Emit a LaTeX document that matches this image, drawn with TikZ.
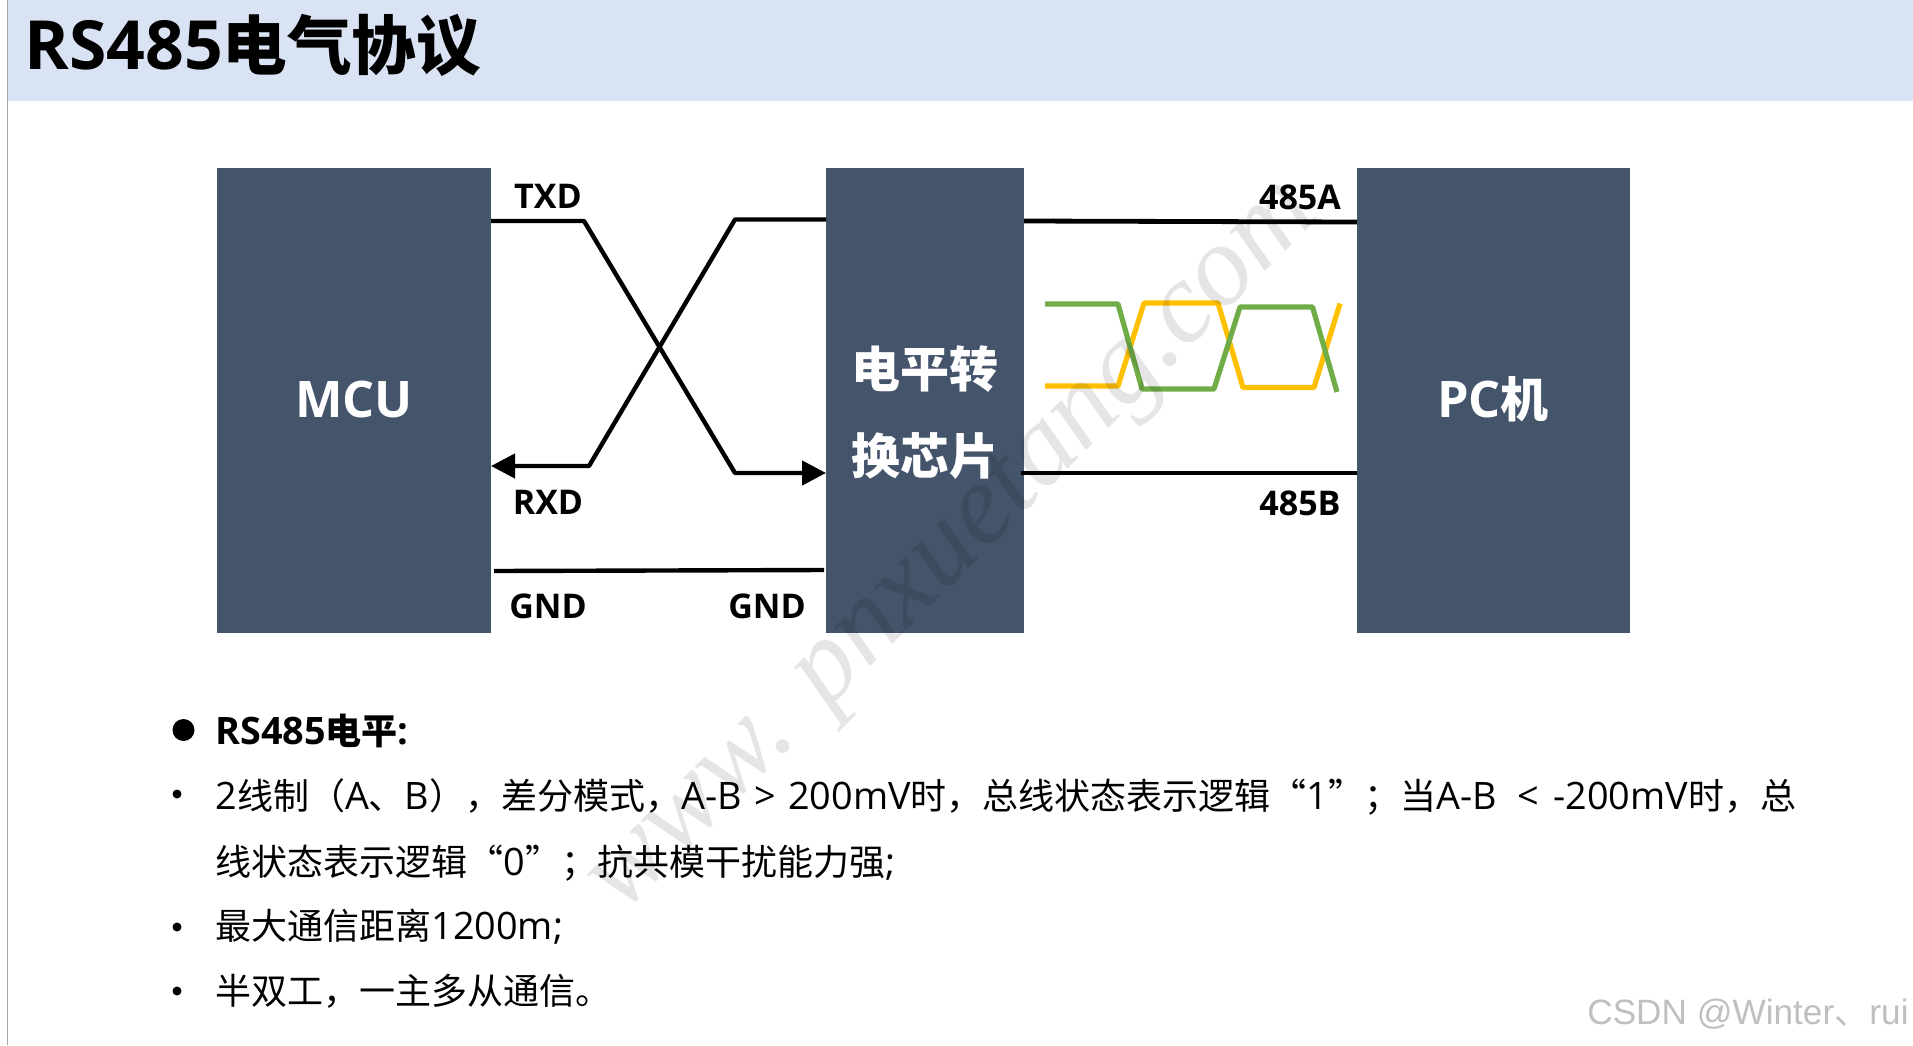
\documentclass[tikz,border=0pt]{standalone}
\usepackage{fontspec}
\setmainfont{Noto Sans CJK SC}
\newfontfamily\lat[Scale=1.05,WordSpace=1.25]{Open Sans}
\newfontfamily\markfont{Liberation Serif}
\newfontfamily\csdnfont{Liberation Sans}
\usetikzlibrary{arrows.meta}
\definecolor{boxblue}{HTML}{44546A}
\definecolor{headblue}{HTML}{DAE3F3}
\definecolor{sigyellow}{HTML}{FFC000}
\definecolor{siggreen}{HTML}{70AD47}
\tikzset{
    block/.style={fill=boxblue,anchor=north west,inner sep=0pt,outer sep=0pt,minimum height=232.5pt},
    blocktext/.style={text=white,font=\fontsize{24}{43.5}\selectfont\bfseries,align=center,inner sep=0pt},
    sig/.style={font=\fontsize{16.2}{18}\selectfont\bfseries,inner sep=0pt},
    bodytext/.style={anchor=west,font=\fontsize{18}{18}\selectfont,inner sep=0pt},
    wire/.style={line width=2.2pt,line join=round},
    buswire/.style={line width=2.4pt},
    wave/.style={line width=2.6pt,line join=round},
    arrowwire/.style={wire,-{Triangle[length=12pt,width=12pt]}},
    bigdot/.style={circle,fill=black,inner sep=0pt,minimum size=11pt},
    smalldot/.style={circle,fill=black,inner sep=0pt,minimum size=4.5pt}
}
\begin{document}
\begin{tikzpicture}[x=0.5pt,y=-0.5pt]
    \useasboundingbox (0,0) rectangle (1913,1045);

    % header
    \fill[headblue] (8,0) rectangle (1913,101);
    \draw[gray!70,line width=0.6pt] (7.5,0) -- (7.5,1045);
    \node[anchor=west,inner sep=0pt,font=\fontsize{32.3}{33}\selectfont\bfseries] (title) at (24,45) {{\lat RS485}电气协议};

    % blocks
    \node[block,minimum width=137pt] (mcu) at (217,168) {};
    \node[block,minimum width=99pt] (chip) at (826,168) {};
    \node[block,minimum width=136.5pt] (pc) at (1357,168) {};
    \node[blocktext] (mculabel) at (354,399) {\lat MCU};
    \node[blocktext,font=\fontsize{24.5}{43.5}\selectfont\bfseries] (chiplabel) at (925,412.5) {电平转\\换芯片};
    \node[blocktext] (pclabel) at (1493,399) {{\lat PC}机};

    % crossed wires
    \coordinate (txdA) at (584,221);
    \coordinate (txdB) at (735,473);
    \coordinate (rxdA) at (735,219.5);
    \coordinate (rxdB) at (589,466);
    \draw[arrowwire] (mcu.east |- txdA) -- (txdA) -- (txdB) -- (chip.west |- txdB);
    \draw[arrowwire] (chip.west |- rxdA) -- (rxdA) -- (rxdB) -- (mcu.east |- rxdB);
    \coordinate (gndA) at (494,571);
    \coordinate (gndB) at (824,570);
    \draw[wire] (gndA) -- (gndB);

    % bus wires
    \coordinate (busA) at (1024,221);
    \coordinate (busB) at (1357,222);
    \coordinate (busC) at (1021,473);
    \draw[buswire] (chip.east |- busA) -- (pc.west |- busB);
    \draw[buswire] (busC) -- (pc.west |- busC);

    % signal labels
    \node[sig] (txd) at (548,196) {\lat TXD};
    \node[sig] (rxd) at (548,502) {\lat RXD};
    \node[sig] (gndl) at (548,606) {\lat GND};
    \node[sig] (gndr) at (767,606) {\lat GND};
    \node[sig] (buslabelA) at (1300,197) {\lat 485A};
    \node[sig] (buslabelB) at (1300,503) {\lat 485B};

    % waveform
    \draw[wave,sigyellow] (1045,386) -- (1118,386) -- (1144,303) -- (1218,303) -- (1243,387.5) -- (1314,387.5) -- (1340,303.5);
    \draw[wave,siggreen] (1045,304) -- (1118,304) -- (1142,389) -- (1214,389) -- (1240,307) -- (1312.5,307) -- (1337,392);

    % text
    \node[bigdot] (dotA) at (183.5,730) {};
    \node[bodytext,font=\fontsize{18}{18}\selectfont\bfseries] (lineA) at (215,731) {{\lat RS485}电平{\lat :}};
    \node[smalldot] (dotB) at (177,794) {};
    \node[bodytext] (lineB) at (215,797) {{\lat 2}线制（{\lat A}、{\lat B}），差分模式，{\lat A-B > 200mV}时，总线状态表示逻辑“{\lat 1}”；当{\lat A-B\hspace{4pt} < \hspace{1.2pt}-200mV}时，总};
    \node[bodytext] (lineC) at (215,863) {线状态表示逻辑“{\lat 0}”；抗共模干扰能力强{\lat ;}};
    \node[smalldot] (dotC) at (177,927) {};
    \node[bodytext] (lineD) at (215,927) {最大通信距离{\lat 1200m;}};
    \node[smalldot] (dotD) at (177,991) {};
    \node[bodytext] (lineE) at (215,991) {半双工，一主多从通信。};

    % watermarks
    \coordinate (markstart) at (622,915);
    \node[anchor=base west,text=black,opacity=0.1,rotate=45,inner sep=0pt,font=\markfont\itshape\fontsize{57.5}{58}\selectfont] (mark) at (markstart) {www. pnxuetang.com};
    \node[anchor=east,inner sep=0pt,text=black!25,font=\fontsize{17.6}{18}\selectfont] (csdn) at (1909,1014) {\csdnfont CSDN @Winter\normalfont、\csdnfont rui};
\end{tikzpicture}
\end{document}
